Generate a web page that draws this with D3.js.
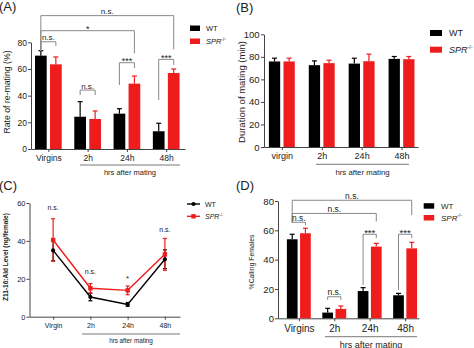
<!DOCTYPE html>
<html>
<head>
<meta charset="utf-8">
<script src="https://cdn.jsdelivr.net/npm/d3@7/dist/d3.min.js"></script>
<style>
body{margin:0;background:#fff}
text{font-family:"Liberation Sans",Arial,sans-serif;fill:#222}
</style>
</head>
<body>
<svg id="fig" width="474" height="348"></svg>
<script>
// ---- data ----
var groupsA = ["Virgins","2h","24h","48h"];
var wtA     = [70, 24.2, 26.5, 13.3];
var wtErrA  = [3.7, 11.3, 3.7, 6];
var sprA    = [63.5, 22.5, 49, 57];
var sprErrA = [5.5, 6, 5.7, 3];

var groupsB = ["virgin","2h","24h","48h"];
var wtB     = [75.9, 72.6, 74, 78.2];
var wtErrB  = [2.9, 3.8, 4.8, 2.1];
var sprB    = [75.9, 74.4, 76.1, 77.9];
var sprErrB = [2.9, 2.6, 6.3, 2.4];

var groupsC = ["Virgin","2h","24h","48h"];
var wtC     = [35, 10.4, 6.5, 30.3];
var wtErrC  = [5.5, 2, 1, 5];
var sprC    = [40.5, 15, 13.9, 32.9];
var sprErrC = [11.2, 2.5, 2.3, 8.4];
var notesC  = [{g:"Virgin", v:56.4, t:"n.s."}, {g:"2h", v:22.5, t:"n.s."},
               {g:"24h", v:18.6, t:"*"}, {g:"48h", v:44.5, t:"n.s."}];

var groupsD = ["Virgins","2h","24h","48h"];
var wtD     = [53.9, 3.9, 18.6, 15.7];
var wtErrD  = [3.4, 2.9, 2.3, 1.3];
var sprD    = [58, 6.4, 48.9, 47.7];
var sprErrD = [3.4, 2, 2.2, 4.1];

// brackets: [group, bar] from / to, top value, drop ends, label
var bracketsA = [
  {a:[0,0], b:[3,1], top:100,  d1:73.5, d2:74.7, t:"n.s."},
  {a:[0,0], b:[2,1], top:88.7, d1:73.5, d2:71.7, t:"*"},
  {a:[0,0], b:[0,1], top:80.4, d1:73.5, d2:77.2, t:"n.s."},
  {a:[1,0], b:[1,1], top:44.2, d1:40.5, d2:40.5, t:"n.s."},
  {a:[2,0], b:[2,1], top:64.7, d1:48,   d2:60.7, t:"***"},
  {a:[3,0], b:[3,1], top:67.2, d1:36.7, d2:63,   t:"***"}
];
var bracketsD = [
  {a:[0,0], b:[3,1], top:80.5, d1:65,   d2:70.4, t:"n.s."},
  {a:[0,0], b:[2,1], top:71.5, d1:65,   d2:66,   t:"n.s."},
  {a:[0,0], b:[0,1], top:65.5, d1:65,   d2:63.4, t:"n.s."},
  {a:[1,0], b:[1,1], top:14.7, d1:12.5, d2:12.5, t:"n.s."},
  {a:[2,0], b:[2,1], top:57.3, d1:22.7, d2:54.7, t:"***"},
  {a:[3,0], b:[3,1], top:57.3, d1:19.3, d2:54.7, t:"***"}
];

var RED = "#ee1c1c", AX = "#444", BR = "#888";
var svg = d3.select("#fig");

function styleAxis(sel, fs) {
  sel.select(".domain").attr("stroke", AX);
  sel.selectAll(".tick line").attr("stroke", AX);
  sel.selectAll(".tick text").attr("font-size", fs).attr("fill", "#222")
     .attr("font-family", "Liberation Sans, Arial, sans-serif");
}

function sprText(t, fs) {
  t.append("tspan").attr("font-style", "italic").text("SPR");
  t.append("tspan").attr("font-size", fs * 0.6).attr("dy", -fs * 0.4).text("-/-");
}

function legendBoxes(x, y, gap, w, h, fs, tx) {
  [["WT","#000"],["SPR",RED]].forEach(function(d, i){
    svg.append("rect").attr("x", x).attr("y", y + i*gap).attr("width", w).attr("height", h).attr("fill", d[1]);
    var t = svg.append("text").attr("x", tx).attr("y", y + i*gap + h/2 + fs*0.35).attr("font-size", fs);
    if (i == 0) t.text("WT"); else sprText(t, fs);
  });
}

function errCap(g, cx, y0, y1, cw, col) {
  g.append("line").attr("x1", cx).attr("x2", cx).attr("y1", y0).attr("y2", y1)
   .attr("stroke", col).attr("stroke-width", 1.2);
  g.append("line").attr("x1", cx - cw/2).attr("x2", cx + cw/2).attr("y1", y1).attr("y2", y1)
   .attr("stroke", col).attr("stroke-width", 1.2);
}

function drawBars(p) {
  var g = svg.append("g");
  var x = d3.scalePoint().domain(p.groups).range(p.xr).padding(p.pad).align(p.align);
  var y = d3.scaleLinear().domain([0, p.ymax]).range(p.yr);

  var ya = g.append("g").attr("transform", "translate(" + p.xr[0] + ",0)")
    .call(d3.axisLeft(y).tickValues(p.yticks).tickSize(3).tickSizeOuter(0).tickPadding(p.ypad));
  styleAxis(ya, p.fs);
  var xa = g.append("g").attr("transform", "translate(0," + p.yr[0] + ")")
    .call(d3.axisBottom(x).tickSize(3).tickSizeOuter(0).tickPadding(p.xpad));
  styleAxis(xa, p.xfs);

  function bx(gi, bi) { return x(p.groups[gi]) + (bi ? p.off : -p.off); }

  [[p.wt, p.wtErr, "#000"], [p.spr, p.sprErr, RED]].forEach(function(s, bi){
    g.append("g").selectAll("rect").data(s[0]).enter().append("rect")
      .attr("x", function(d, i){ return bx(i, bi) - p.bw/2; })
      .attr("y", function(d){ return y(d); })
      .attr("width", p.bw)
      .attr("height", function(d){ return y(0) - y(d); })
      .attr("fill", s[2]);
    s[0].forEach(function(v, i){
      errCap(g, bx(i, bi), y(v), y(v + s[1][i]), p.cap, s[2]);
    });
  });

  (p.brackets || []).forEach(function(b){
    var x1 = bx(b.a[0], b.a[1]), x2 = bx(b.b[0], b.b[1]);
    g.append("path")
      .attr("d", "M" + x1 + "," + y(b.d1) + "V" + y(b.top) + "H" + x2 + "V" + y(b.d2))
      .attr("fill", "none").attr("stroke", BR).attr("stroke-width", 1);
    g.append("text").attr("x", (x1 + x2)/2).attr("y", y(b.top) - (b.t == "n.s." ? 1.5 : -1.5))
      .attr("text-anchor", "middle").attr("font-size", b.t == "n.s." ? p.nsfs : p.nsfs + 1)
      .attr("fill", "#333").text(b.t);
  });

  g.append("line").attr("x1", p.hrs[0]).attr("x2", p.hrs[1]).attr("y1", p.hrs[2]).attr("y2", p.hrs[2])
    .attr("stroke", "#555").attr("stroke-width", 0.8);
  g.append("text").attr("x", (p.hrs[0] + p.hrs[1])/2).attr("y", p.hrs[3])
    .attr("text-anchor", "middle").attr("font-size", p.hfs).text("hrs after mating");

  g.append("text").attr("transform", "translate(" + p.ylab[0] + "," + p.ylab[1] + ") rotate(-90)")
    .attr("text-anchor", "middle").attr("dy", "0.35em").attr("font-size", p.ylab[2]).text(p.ylab[3]);
}

// ---- panel A ----
drawBars({groups:groupsA, wt:wtA, wtErr:wtErrA, spr:sprA, sprErr:sprErrA,
  xr:[31,185], pad:0.46, align:0.48, ymax:80, yr:[149,42.3], yticks:[0,20,40,60,80],
  bw:11.7, off:7.5, cap:5, fs:8.5, xfs:8.5, ypad:1, xpad:3,
  brackets:bracketsA, nsfs:8, hrs:[80,180,165,175], hfs:7.5,
  ylab:[7,92,8.7,"Rate of re-mating (%)"]});
legendBoxes(190, 25.5, 13, 10, 5.5, 7.5, 206);

// ---- panel B ----
drawBars({groups:groupsB, wt:wtB, wtErr:wtErrB, spr:sprB, sprErr:sprErrB,
  xr:[264,418], pad:0.43, align:0.52, ymax:100, yr:[147,34.3], yticks:[0,20,40,60,80,100],
  bw:11.3, off:7.3, cap:5, fs:9.5, xfs:9, ypad:1.5, xpad:2.5,
  hrs:[316,409,164.3,174.5], hfs:7.8,
  ylab:[242,92,9.5,"Duration of mating (min)"]});
legendBoxes(430, 30, 16.7, 12, 6, 9, 449);

// ---- panel C ----
(function(){
  var g = svg.append("g");
  var x = d3.scalePoint().domain(groupsC).range([29.5,180]).padding(0.52).align(0.61);
  var y = d3.scaleLinear().domain([0,60]).range([316.7,203]);
  var ya = g.append("g").attr("transform", "translate(29.5,0)")
    .call(d3.axisLeft(y).tickValues([0,20,40,60]).tickSize(3).tickSizeOuter(0).tickPadding(1));
  styleAxis(ya, 7.5);
  var xa = g.append("g").attr("transform", "translate(0,316.7)")
    .call(d3.axisBottom(x).tickSize(3).tickSizeOuter(0).tickPadding(3));
  styleAxis(xa, 7);

  var line = d3.line().x(function(d, i){ return x(groupsC[i]); }).y(function(d){ return y(d); });
  [[wtC, wtErrC, "#000", "c"], [sprC, sprErrC, RED, "s"]].forEach(function(s){
    s[0].forEach(function(v, i){
      var cx = x(groupsC[i]);
      errCap(g, cx, y(v), y(v + s[1][i]), 4, s[2]);
      errCap(g, cx, y(v), y(v - s[1][i]), 4, s[2]);
    });
  });
  [[wtC, "#000", "c"], [sprC, RED, "s"]].forEach(function(s){
    g.append("path").datum(s[0]).attr("d", line).attr("fill", "none")
      .attr("stroke", s[1]).attr("stroke-width", 1.4);
    s[0].forEach(function(v, i){
      if (s[2] == "c") g.append("circle").attr("cx", x(groupsC[i])).attr("cy", y(v)).attr("r", 2.1).attr("fill", s[1]);
      else g.append("rect").attr("x", x(groupsC[i]) - 2.2).attr("y", y(v) - 2.2).attr("width", 4.4).attr("height", 4.4).attr("fill", s[1]);
    });
  });
  notesC.forEach(function(n){
    g.append("text").attr("x", x(n.g)).attr("y", y(n.v)).attr("text-anchor", "middle")
      .attr("font-size", n.t == "*" ? 8 : 7).attr("fill", "#333").text(n.t);
  });

  g.append("line").attr("x1", 82).attr("x2", 180).attr("y1", 334).attr("y2", 334)
    .attr("stroke", "#555").attr("stroke-width", 0.8);
  g.append("text").attr("x", 131).attr("y", 343).attr("text-anchor", "middle")
    .attr("font-size", 6.3).text("hrs after mating");
  g.append("text").attr("transform", "translate(6,257) rotate(-90)").attr("text-anchor", "middle")
    .attr("dy", "0.35em").attr("font-size", 6.5).attr("font-weight", "bold").text("Z11-16:Ald Level (ng/female)");

  [["WT","#000"],["SPR",RED]].forEach(function(d, i){
    var ly = 204 + i*12.3;
    g.append("line").attr("x1", 187).attr("x2", 200).attr("y1", ly).attr("y2", ly).attr("stroke", d[1]).attr("stroke-width", 1.4);
    if (i == 0) g.append("circle").attr("cx", 193.5).attr("cy", ly).attr("r", 2.1).attr("fill", d[1]);
    else g.append("rect").attr("x", 191.3).attr("y", ly - 2.2).attr("width", 4.4).attr("height", 4.4).attr("fill", d[1]);
    var t = g.append("text").attr("x", 205).attr("y", ly + 2.5).attr("font-size", 7);
    if (i == 0) t.text("WT"); else sprText(t, 7);
  });
})();

// ---- panel D ----
drawBars({groups:groupsD, wt:wtD, wtErr:wtErrD, spr:sprD, sprErr:sprErrD,
  xr:[278,419], pad:0.49, align:0.6, ymax:80, yr:[318.3,201], yticks:[0,20,40,60,80],
  bw:10.7, off:6.6, cap:5, fs:9.6, xfs:10, ypad:1, xpad:4,
  brackets:bracketsD, nsfs:8.5, hrs:[325,417,336.7,347.5], hfs:9,
  ylab:[252,262,6.8,"%Calling Females"]});
legendBoxes(423.7, 203.2, 11.8, 10.5, 5.5, 8, 441);

// panel letters
[["(A)",-1,10.8],["(B)",236,12],["(C)",-1,190],["(D)",236,189.5]].forEach(function(d){
  svg.append("text").attr("x", d[1]).attr("y", d[2]).attr("font-size", 13).attr("fill", "#111").text(d[0]);
});
</script>
</body>
</html>
